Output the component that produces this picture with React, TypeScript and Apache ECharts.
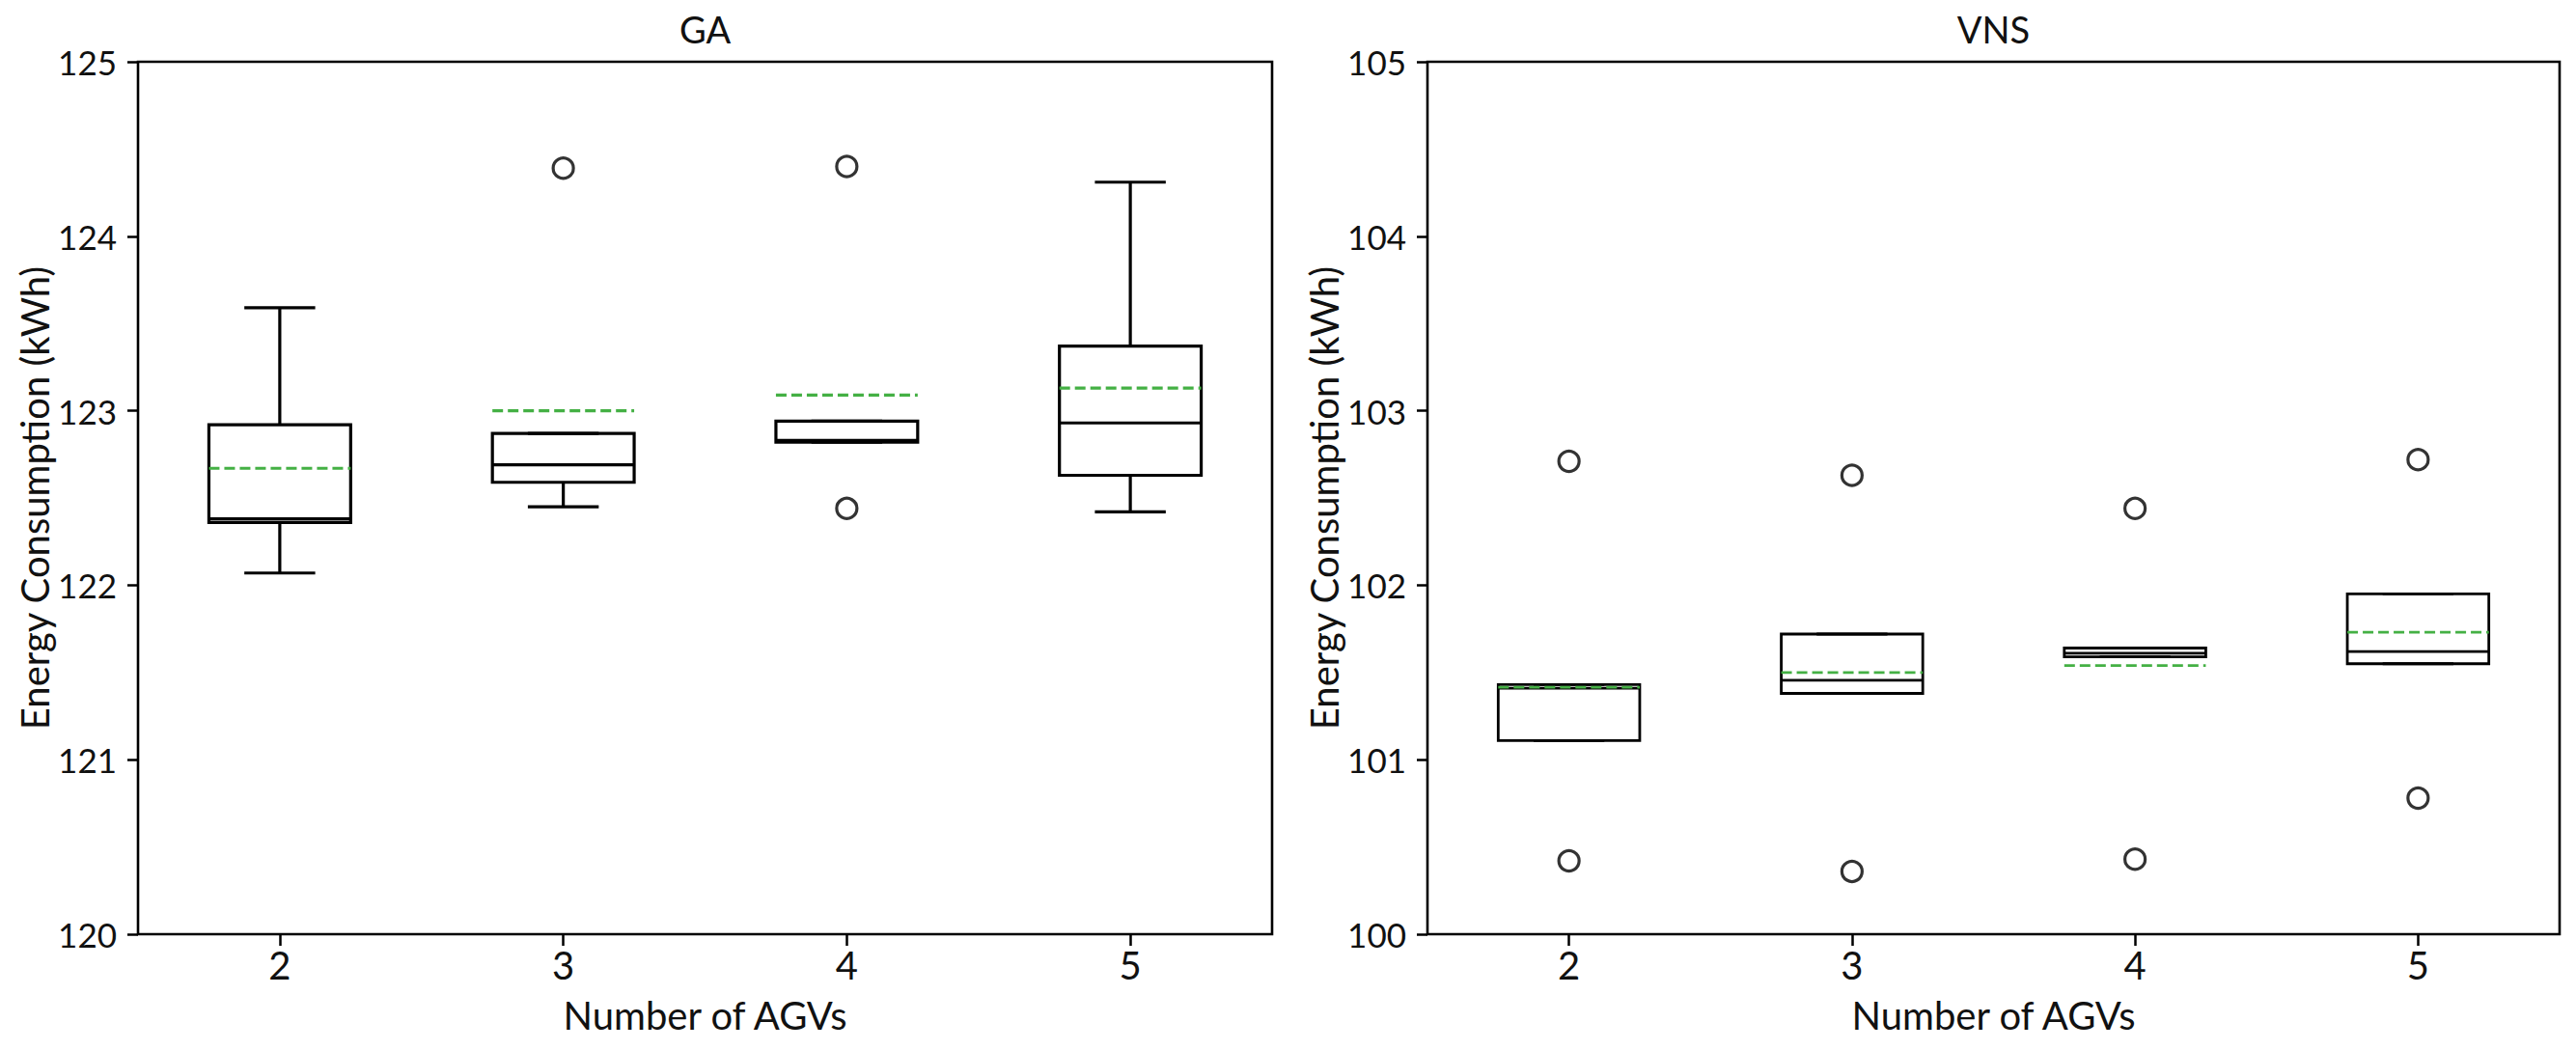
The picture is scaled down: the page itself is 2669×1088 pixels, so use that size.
import React, { useEffect, useRef } from "react";
import * as echarts from "echarts";

const categories = ["2", "3", "4", "5"];
const yTicksGA = [120, 121, 122, 123, 124, 125];
const yTicksVNS = [100, 101, 102, 103, 104, 105];

// GA boxplot statistics
const gaLow = [122.07, 122.45, 122.82, 122.42];
const gaQ1 = [122.36, 122.59, 122.82, 122.63];
const gaMedian = [122.38, 122.69, 122.83, 122.93];
const gaQ3 = [122.92, 122.87, 122.94, 123.37];
const gaHigh = [123.59, 122.87, 122.94, 124.31];
const gaMean = [122.67, 123.0, 123.09, 123.13];
const gaOutliers = [
  [1, 124.39],
  [2, 124.4],
  [2, 122.44],
];

// VNS boxplot statistics
const vnsLow = [101.11, 101.38, 101.59, 101.55];
const vnsQ1 = [101.11, 101.38, 101.59, 101.55];
const vnsMedian = [101.41, 101.455, 101.61, 101.62];
const vnsQ3 = [101.43, 101.72, 101.64, 101.95];
const vnsHigh = [101.43, 101.72, 101.64, 101.95];
const vnsMean = [101.415, 101.5, 101.54, 101.73];
const vnsOutliers = [
  [0, 102.71],
  [0, 100.42],
  [1, 102.63],
  [1, 100.36],
  [2, 102.44],
  [2, 100.43],
  [3, 102.72],
  [3, 100.78],
];

const FONT = 'Lato, "DejaVu Sans", sans-serif';
const TEXT = "#111";
const GREEN = "#44b044";

function buildBoxData(low: number[], q1: number[], med: number[], q3: number[], high: number[], mean: number[]) {
  return categories.map((_, i) => [i, low[i], q1[i], med[i], q3[i], high[i], mean[i]]);
}

function makeRenderItem(lw: number) {
  return (params: any, api: any) => {
    const idx = api.value(0);
    const band = api.size([1, 0])[0];
    const bw = band * 0.5;
    const cw = band * 0.25;
    const pt = (v: number) => api.coord([idx, v]);
    const cx = pt(api.value(1))[0];
    const yLow = pt(api.value(1))[1];
    const yQ1 = pt(api.value(2))[1];
    const yMed = pt(api.value(3))[1];
    const yQ3 = pt(api.value(4))[1];
    const yHigh = pt(api.value(5))[1];
    const yMean = pt(api.value(6))[1];
    const st = { stroke: "#000", lineWidth: lw, fill: "none" };
    const line = (x1: number, y1: number, x2: number, y2: number, style: any = st) => ({
      type: "line",
      shape: { x1, y1, x2, y2 },
      style,
    });
    return {
      type: "group",
      children: [
        line(cx, yQ3, cx, yHigh),
        line(cx, yQ1, cx, yLow),
        line(cx - cw / 2, yHigh, cx + cw / 2, yHigh),
        line(cx - cw / 2, yLow, cx + cw / 2, yLow),
        {
          type: "rect",
          shape: { x: cx - bw / 2, y: yQ3, width: bw, height: yQ1 - yQ3 },
          style: { stroke: "#000", lineWidth: lw, fill: "none" },
        },
        line(cx - bw / 2, yMed, cx + bw / 2, yMed),
        line(cx - bw / 2, yMean, cx + bw / 2, yMean, {
          stroke: GREEN,
          lineWidth: lw,
          lineDash: [11, 5],
          fill: "none",
        }),
      ],
    };
  };
}

function xAxisCfg(gridIndex: number) {
  return {
    type: "category",
    gridIndex,
    data: categories,
    boundaryGap: true,
    name: "Number of AGVs",
    nameLocation: "middle",
    nameGap: 64,
    nameTextStyle: { fontSize: 40, fontFamily: FONT, color: TEXT },
    axisLine: { show: false },
    axisTick: { show: true, alignWithLabel: true, interval: 0, length: 12, lineStyle: { color: "#000", width: 2.5 } },
    axisLabel: { fontSize: 40, fontFamily: FONT, color: TEXT, margin: 12, interval: 0 },
    splitLine: { show: false },
  };
}

function yAxisCfg(gridIndex: number, ticks: number[]) {
  return {
    type: "value",
    gridIndex,
    min: ticks[0],
    max: ticks[ticks.length - 1],
    interval: ticks[1] - ticks[0],
    name: "Energy Consumption (kWh)",
    nameLocation: "middle",
    nameGap: 86,
    nameTextStyle: { fontSize: 40, fontFamily: FONT, color: TEXT },
    axisLine: { show: false },
    axisTick: { show: true, length: 11, lineStyle: { color: "#000", width: 2.5 } },
    axisLabel: { fontSize: 35, fontFamily: FONT, color: TEXT, margin: 22 },
    splitLine: { show: false },
  };
}

export default function App() {
  const ref = useRef<HTMLDivElement>(null);
  useEffect(() => {
    if (!ref.current) return;
    const chart = echarts.init(ref.current, null, { renderer: "svg" });
    const gridBase = { show: true, borderColor: "#000", borderWidth: 2.6, backgroundColor: "transparent", containLabel: false };
    chart.setOption({
      animation: false,
      backgroundColor: "#fff",
      grid: [
        { ...gridBase, left: 143, top: 64, width: 1175, height: 904 },
        { ...gridBase, left: 1479, top: 64, width: 1173, height: 904 },
      ],
      xAxis: [xAxisCfg(0), xAxisCfg(1)],
      yAxis: [yAxisCfg(0, yTicksGA), yAxisCfg(1, yTicksVNS)],
      graphic: [
        {
          type: "text",
          x: 730.5,
          y: 30,
          style: { text: "GA", fontSize: 38, fontFamily: FONT, fill: TEXT, align: "center", verticalAlign: "middle" },
        },
        {
          type: "text",
          x: 2065.5,
          y: 30,
          style: { text: "VNS", fontSize: 38, fontFamily: FONT, fill: TEXT, align: "center", verticalAlign: "middle" },
        },
      ],
      series: [
        {
          type: "custom",
          name: "GA",
          xAxisIndex: 0,
          yAxisIndex: 0,
          renderItem: makeRenderItem(3.2),
          encode: { x: 0, y: [1, 2, 3, 4, 5, 6] },
          data: buildBoxData(gaLow, gaQ1, gaMedian, gaQ3, gaHigh, gaMean),
          z: 3,
        },
        {
          type: "scatter",
          name: "GA outliers",
          xAxisIndex: 0,
          yAxisIndex: 0,
          symbol: "circle",
          symbolSize: 21,
          itemStyle: { color: "rgba(0,0,0,0)", borderColor: "#000", borderWidth: 3.2 },
          data: gaOutliers,
          z: 4,
        },
        {
          type: "custom",
          name: "VNS",
          xAxisIndex: 1,
          yAxisIndex: 1,
          renderItem: makeRenderItem(2.8),
          encode: { x: 0, y: [1, 2, 3, 4, 5, 6] },
          data: buildBoxData(vnsLow, vnsQ1, vnsMedian, vnsQ3, vnsHigh, vnsMean),
          z: 3,
        },
        {
          type: "scatter",
          name: "VNS outliers",
          xAxisIndex: 1,
          yAxisIndex: 1,
          symbol: "circle",
          symbolSize: 21,
          itemStyle: { color: "rgba(0,0,0,0)", borderColor: "#000", borderWidth: 3.2 },
          data: vnsOutliers,
          z: 4,
        },
      ],
    });
    return () => chart.dispose();
  }, []);
  return (
    <div
      ref={ref}
      style={{ position: "fixed", left: 0, top: 0, width: 2669, height: 1088, background: "#fff" }}
    />
  );
}
